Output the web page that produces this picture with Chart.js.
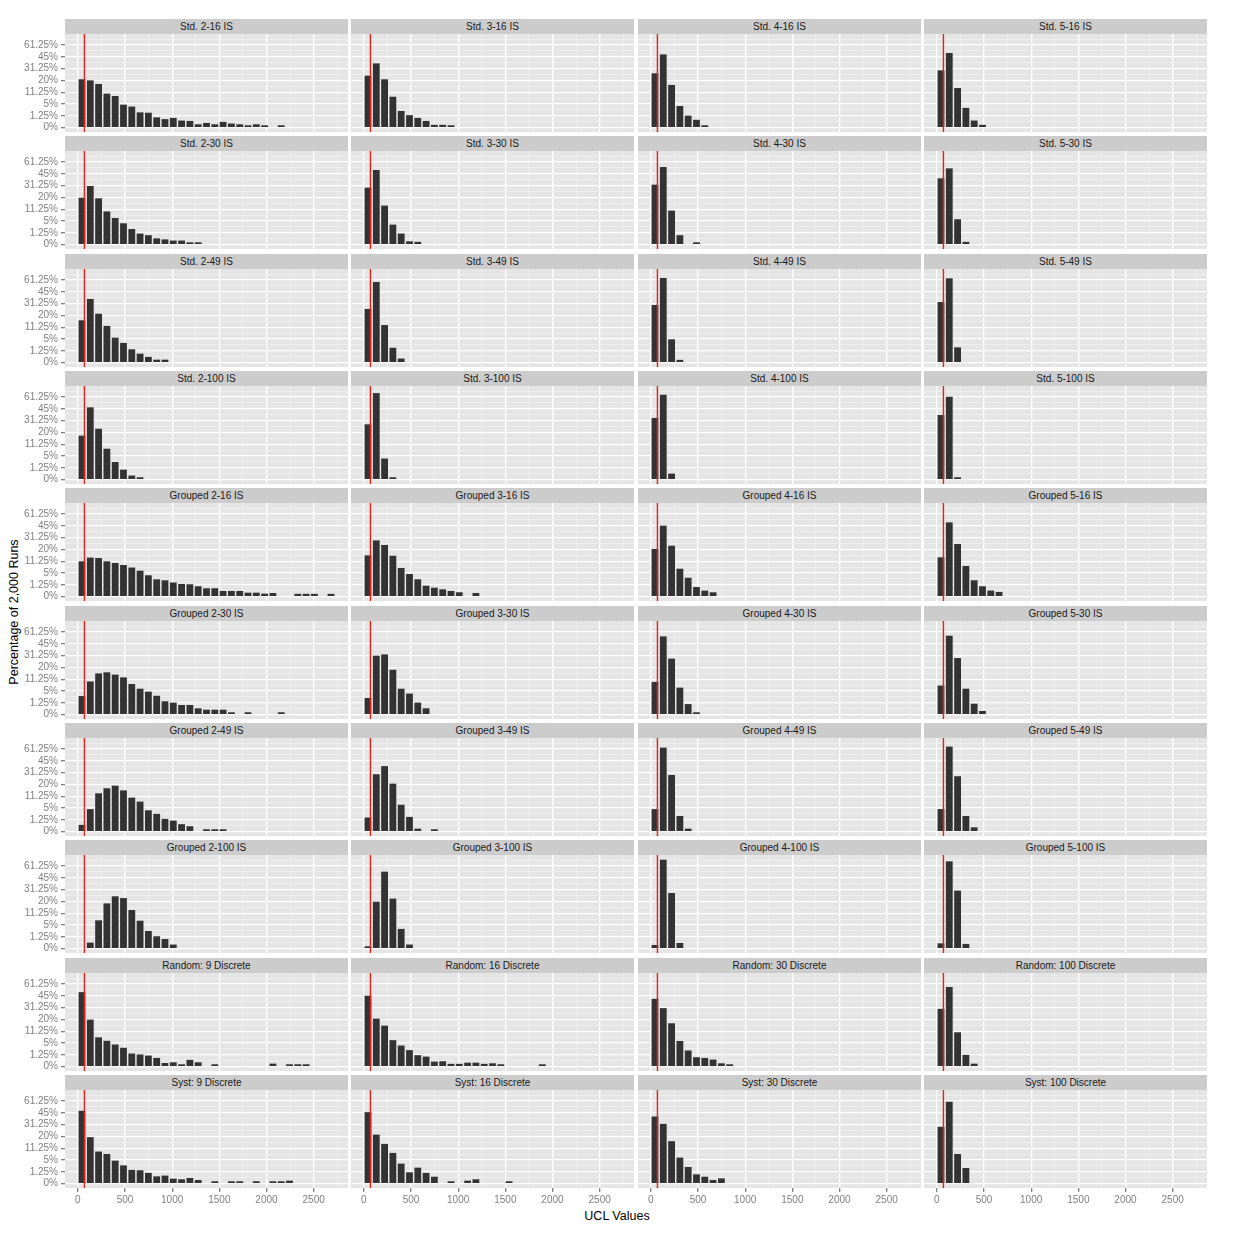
<!DOCTYPE html>
<html>
<head>
<meta charset="utf-8">
<script src="https://cdn.jsdelivr.net/npm/chart.js@4.4.1/dist/chart.umd.min.js"></script>
<style>
body { margin: 0; background: #fff; font-family: "Liberation Sans", Arial, sans-serif; }
#wrap { position: relative; width: 1237px; height: 1245px; overflow: hidden; }
.strip { position: absolute; height: 15px; background: #CCCCCC; font-size: 10px; line-height: 15px; text-align: center; color: #1A1A1A; white-space: nowrap; }
canvas { position: absolute; }
.ytitle { position: absolute; left: 14px; top: 612px; font-size: 12.5px; color: #000; white-space: nowrap; transform: translate(-50%, -50%) rotate(-90deg); }
.xtitle { position: absolute; left: 617px; top: 1216px; font-size: 12.5px; color: #000; white-space: nowrap; transform: translate(-50%, -50%); }
</style>
</head>
<body>
<div id="wrap">
  <div class="ytitle">Percentage of 2,000 Runs</div>
  <div class="xtitle">UCL Values</div>
</div>
<script>
// histogram bins: width of a bin in UCL units, first bin starts at 0
var binWidth = 88;
var refLine = 70;
var xTicks = [0, 500, 1000, 1500, 2000, 2500];
var yTickPct = [0, 1.25, 5, 11.25, 20, 31.25, 45, 61.25];

// percentage of runs per bin
var std2_16 = [21.0, 20.1, 17.1, 10.4, 9.0, 4.75, 4.0, 2.1, 2.0, 0.95, 0.65, 0.85, 0.45, 0.4, 0.1, 0.2, 0.1, 0.3, 0.15, 0.1, 0.05, 0.1, 0.05, 0, 0.05];
var std3_16 = [24.3, 37.1, 21.0, 8.6, 2.5, 1.4, 0.85, 0.4, 0.07, 0.07, 0.05];
var std4_16 = [26.5, 48.2, 16.4, 4.2, 1.3, 0.55, 0.05];
var std5_16 = [29.5, 50.1, 14.1, 3.5, 0.45, 0.07];
var std2_30 = [19.8, 30.9, 19.3, 9.9, 6.4, 4.1, 2.2, 1.1, 0.8, 0.35, 0.25, 0.15, 0.15, 0.05, 0.05];
var std3_30 = [29.2, 50.1, 13.7, 3.6, 1.1, 0.1, 0.07];
var std4_30 = [32.3, 54.1, 10.4, 0.8, 0, 0.05];
var std5_30 = [39.5, 52.3, 5.8, 0.07];
var std2_49 = [16.1, 36.5, 21.5, 12.1, 5.6, 3.5, 1.6, 0.72, 0.3, 0.08, 0.08];
var std3_49 = [25.9, 58.5, 12.7, 2.0, 0.15];
var std4_49 = [29.9, 64.4, 4.9, 0.07];
var std5_49 = [33.0, 63.9, 2.1];
var std2_100 = [17.4, 47.0, 23.3, 8.6, 2.8, 0.9, 0.15, 0.05];
var std3_100 = [27.5, 67.3, 4.0, 0.05];
var std4_100 = [34.2, 64.8, 0.33];
var std5_100 = [37.5, 61.8, 0.05];
var grp2_16 = [11.2, 13.7, 13.4, 11.2, 10.2, 9.0, 7.6, 6.05, 4.1, 2.7, 2.4, 1.8, 1.43, 1.38, 0.97, 0.63, 0.63, 0.29, 0.29, 0.29, 0.14, 0.14, 0.08, 0.12, 0, 0, 0.07, 0.07, 0.07, 0, 0.07];
var grp3_16 = [15.3, 28.4, 24.0, 15.05, 7.4, 4.6, 2.7, 1.08, 0.72, 0.48, 0.29, 0.17, 0, 0.12];
var grp4_16 = [20.4, 45.3, 23.3, 7.0, 3.2, 0.84, 0.33, 0.17];
var grp5_16 = [13.9, 49.6, 24.9, 8.45, 2.4, 0.97, 0.33, 0.2];
var grp2_30 = [3.1, 9.9, 15.3, 16.1, 14.4, 12.5, 8.45, 6.05, 4.75, 3.2, 1.6, 1.3, 0.84, 0.84, 0.36, 0.22, 0.22, 0.22, 0.05, 0, 0.05, 0, 0, 0, 0.05];
var grp3_30 = [2.5, 31.25, 32.6, 18.1, 6.05, 4.0, 1.3, 0.36];
var grp4_30 = [9.6, 55.0, 28.2, 6.55, 1.0, 0.05];
var grp5_30 = [7.6, 56.0, 28.8, 6.05, 1.08, 0.12];
var grp2_49 = [0.41, 4.56, 13.2, 16.9, 19.0, 15.3, 10.4, 8.1, 4.1, 2.85, 1.46, 1.1, 0.5, 0.26, 0, 0.05, 0.05, 0.05];
var grp3_49 = [1.8, 29.6, 38.6, 20.7, 6.5, 1.95, 0.08, 0, 0.05];
var grp4_49 = [4.56, 63.4, 28.9, 2.2, 0.08];
var grp5_49 = [4.56, 65.0, 27.6, 2.2, 0.17];
var grp2_100 = [0, 0.33, 7.2, 18.4, 24.6, 23.0, 13.4, 7.0, 2.8, 1.38, 0.84, 0.15];
var grp3_100 = [0.05, 19.8, 53.3, 22.5, 3.5, 0.15];
var grp4_100 = [0.12, 71.1, 27.8, 0.29];
var grp5_100 = [0.25, 68.5, 30.3, 0.2];
var rnd9 = [49.9, 19.9, 7.7, 6.0, 4.4, 3.2, 1.54, 1.33, 1.1, 0.68, 0.12, 0.17, 0.05, 0.41, 0.17, 0, 0.05, 0, 0, 0, 0, 0, 0, 0.08, 0, 0.05, 0.05, 0.05];
var rnd16 = [45.2, 20.7, 15.1, 6.3, 4.0, 2.45, 1.18, 0.9, 0.23, 0.26, 0.07, 0.07, 0.14, 0.14, 0.07, 0.1, 0.05, 0, 0, 0, 0, 0.05];
var rnd30 = [41.3, 30.75, 16.9, 5.9, 2.35, 0.8, 0.68, 0.45, 0.1, 0.05];
var rnd100 = [30.0, 57.0, 10.6, 1.25, 0.08];
var sys9 = [47.7, 19.4, 9.25, 7.9, 4.75, 3.0, 1.7, 1.6, 1.04, 0.48, 0.58, 0.22, 0.17, 0.29, 0.12, 0, 0.05, 0, 0.05, 0.05, 0, 0.05, 0, 0.05, 0.05, 0.08];
var sys16 = [45.9, 21.6, 14.2, 8.5, 3.6, 1.15, 2.3, 1.04, 0.43, 0, 0.05, 0, 0.08, 0.17, 0, 0, 0, 0.05];
var sys30 = [40.5, 32.1, 16.2, 6.1, 2.5, 0.78, 0.43, 0.12, 0.25];
var sys100 = [29.0, 60.2, 7.9, 2.2];

var titles = [
  ['Std. 2-16 IS', 'Std. 3-16 IS', 'Std. 4-16 IS', 'Std. 5-16 IS'],
  ['Std. 2-30 IS', 'Std. 3-30 IS', 'Std. 4-30 IS', 'Std. 5-30 IS'],
  ['Std. 2-49 IS', 'Std. 3-49 IS', 'Std. 4-49 IS', 'Std. 5-49 IS'],
  ['Std. 2-100 IS', 'Std. 3-100 IS', 'Std. 4-100 IS', 'Std. 5-100 IS'],
  ['Grouped 2-16 IS', 'Grouped 3-16 IS', 'Grouped 4-16 IS', 'Grouped 5-16 IS'],
  ['Grouped 2-30 IS', 'Grouped 3-30 IS', 'Grouped 4-30 IS', 'Grouped 5-30 IS'],
  ['Grouped 2-49 IS', 'Grouped 3-49 IS', 'Grouped 4-49 IS', 'Grouped 5-49 IS'],
  ['Grouped 2-100 IS', 'Grouped 3-100 IS', 'Grouped 4-100 IS', 'Grouped 5-100 IS'],
  ['Random: 9 Discrete', 'Random: 16 Discrete', 'Random: 30 Discrete', 'Random: 100 Discrete'],
  ['Syst: 9 Discrete', 'Syst: 16 Discrete', 'Syst: 30 Discrete', 'Syst: 100 Discrete']
];
var panels = [
  [std2_16, std3_16, std4_16, std5_16],
  [std2_30, std3_30, std4_30, std5_30],
  [std2_49, std3_49, std4_49, std5_49],
  [std2_100, std3_100, std4_100, std5_100],
  [grp2_16, grp3_16, grp4_16, grp5_16],
  [grp2_30, grp3_30, grp4_30, grp5_30],
  [grp2_49, grp3_49, grp4_49, grp5_49],
  [grp2_100, grp3_100, grp4_100, grp5_100],
  [rnd9, rnd16, rnd30, rnd100],
  [sys9, sys16, sys30, sys100]
];

// layout
var colX = [65, 351, 638, 924];
var panelW = 283, panelH = 98, stripH = 15;
var yAxisW = 65, xAxisH = 24;
var xMin = -136, xMax = 2864;

// sqrt scale: plot sqrt(percent), ticks at sqrt of the labelled percentages
var yMajor = yTickPct.map(function(p) { return Math.sqrt(p); });
var yStep = yMajor[1];
var yMin = -0.37 * yStep, yMax = 7.94 * yStep;
var yGrid = [];
yMajor.forEach(function(v) { yGrid.push(v); yGrid.push(v + yStep / 2); });
var xGrid = [];
for (var g = 0; g <= 2750; g += 250) xGrid.push(g);

function yLabel(v) {
  for (var i = 0; i < yMajor.length; i++) {
    if (Math.abs(yMajor[i] - v) < 1e-6) return yTickPct[i] + '%';
  }
  return '';
}
function isYMajor(v) { return yLabel(v) !== ''; }
function isXMajor(v) { return v % 500 === 0; }

var panelBg = {
  id: 'panelBg',
  beforeDraw: function(chart) {
    var a = chart.chartArea, ctx = chart.ctx;
    ctx.save();
    ctx.fillStyle = '#E5E5E5';
    ctx.fillRect(a.left, a.top, a.right - a.left, a.bottom - a.top);
    ctx.restore();
  }
};

var wrap = document.getElementById('wrap');
var tickFont = { family: '"Liberation Sans", Arial, sans-serif', size: 10 };

for (var r = 0; r < panels.length; r++) {
  var stripTop = 19 + Math.round(r * 117.33);
  for (var c = 0; c < 4; c++) {
    var showY = c === 0;
    var showX = r === panels.length - 1;

    var strip = document.createElement('div');
    strip.className = 'strip';
    strip.style.left = colX[c] + 'px';
    strip.style.top = stripTop + 'px';
    strip.style.width = panelW + 'px';
    strip.textContent = titles[r][c];
    wrap.appendChild(strip);

    var cv = document.createElement('canvas');
    var w = panelW + (showY ? yAxisW : 0);
    var h = panelH + (showX ? xAxisH : 0);
    cv.width = w; cv.height = h;
    cv.style.width = w + 'px'; cv.style.height = h + 'px';
    cv.style.left = (colX[c] - (showY ? yAxisW : 0)) + 'px';
    cv.style.top = (stripTop + stripH) + 'px';
    wrap.appendChild(cv);

    var bins = panels[r][c].map(function(p, i) {
      return { x: binWidth * (i + 0.5), y: Math.sqrt(p) };
    });

    new Chart(cv, {
      type: 'bar',
      data: {
        datasets: [
          { type: 'line', data: [{ x: refLine, y: yMin - 1 }, { x: refLine, y: yMax + 1 }],
            borderColor: '#E0221C', borderWidth: 1.4, pointRadius: 0, order: 0, clip: 0 },
          { type: 'bar', data: bins, backgroundColor: '#333333',
            barPercentage: 0.82, categoryPercentage: 1, order: 1 }
        ]
      },
      options: {
        responsive: false,
        animation: false,
        events: [],
        layout: { padding: 0 },
        plugins: { legend: { display: false }, tooltip: { enabled: false } },
        scales: {
          x: {
            type: 'linear', min: xMin, max: xMax, offset: false,
            afterBuildTicks: function(s) { s.ticks = xGrid.map(function(v) { return { value: v }; }); },
            afterFit: (function(sx) { return function(s) {
              s.height = sx ? xAxisH : 0; s.paddingLeft = 0; s.paddingRight = 0;
            }; })(showX),
            ticks: {
              display: showX, autoSkip: false, maxRotation: 0, color: '#7F7F7F', font: tickFont, padding: 2,
              callback: function(v) { return isXMajor(v) ? String(v) : ''; }
            },
            grid: {
              offset: false, drawTicks: showX, tickLength: 4,
              color: function(ctx) { return ctx.tick && isXMajor(ctx.tick.value) ? '#FFFFFF' : '#F2F2F2'; },
              lineWidth: function(ctx) { return ctx.tick && isXMajor(ctx.tick.value) ? 1.3 : 0.7; },
              tickColor: function(ctx) { return ctx.tick && isXMajor(ctx.tick.value) ? '#7F7F7F' : 'rgba(0,0,0,0)'; }
            },
            border: { display: false }
          },
          y: {
            type: 'linear', min: yMin, max: yMax,
            afterBuildTicks: function(s) { s.ticks = yGrid.map(function(v) { return { value: v }; }); },
            afterFit: (function(sy) { return function(s) {
              s.width = sy ? yAxisW : 0; s.paddingTop = 0; s.paddingBottom = 0;
            }; })(showY),
            ticks: {
              display: showY, autoSkip: false, color: '#7F7F7F', font: tickFont, padding: 3,
              callback: function(v) { return yLabel(v); }
            },
            grid: {
              drawTicks: showY, tickLength: 4,
              color: function(ctx) { return ctx.tick && isYMajor(ctx.tick.value) ? '#FFFFFF' : '#F2F2F2'; },
              lineWidth: function(ctx) { return ctx.tick && isYMajor(ctx.tick.value) ? 1.3 : 0.7; },
              tickColor: function(ctx) { return ctx.tick && isYMajor(ctx.tick.value) ? '#7F7F7F' : 'rgba(0,0,0,0)'; }
            },
            border: { display: false }
          }
        }
      },
      plugins: [panelBg]
    });
  }
}
</script>
</body>
</html>
